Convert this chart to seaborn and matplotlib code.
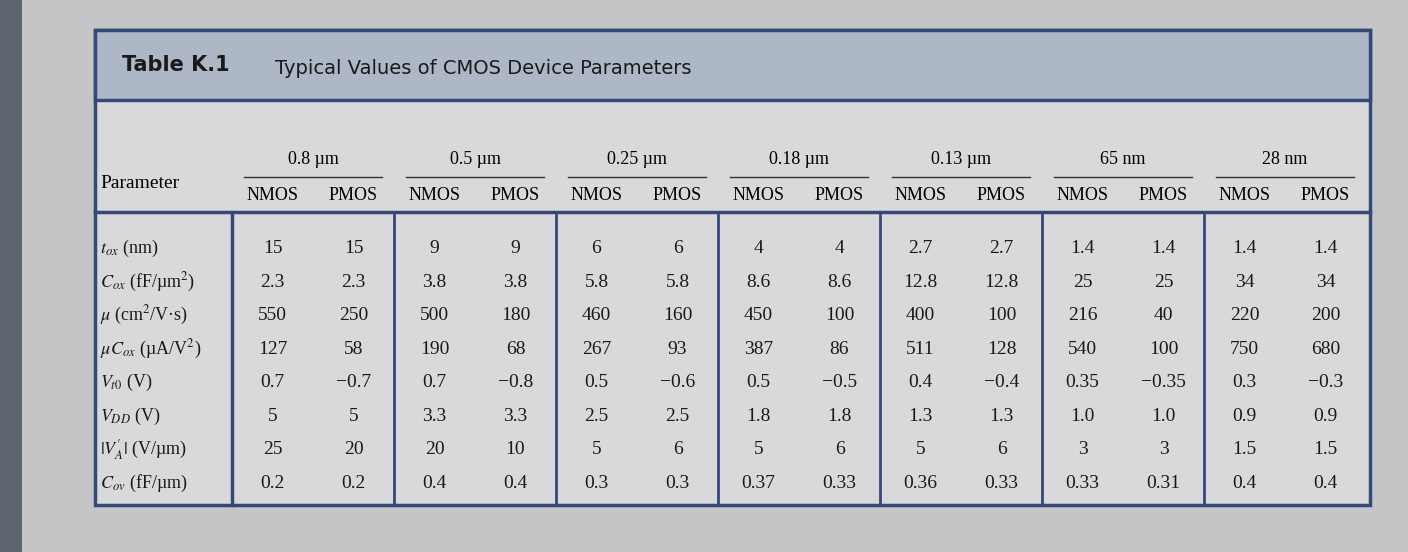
import numpy as np
import matplotlib
matplotlib.use("Agg")
import matplotlib.pyplot as plt
import seaborn as sns
from matplotlib.patches import Rectangle

nodes = ["0.8 µm", "0.5 µm", "0.25 µm", "0.18 µm", "0.13 µm", "65 nm", "28 nm"]
params = [r"$t_{ox}$ (nm)", r"$C_{ox}$ (fF/µm$^2$)", r"$\mu$ (cm$^2$/V·s)",
          r"$\mu C_{ox}$ (µA/V$^2$)", r"$V_{t0}$ (V)", r"$V_{DD}$ (V)",
          r"$|V_A'|$ (V/µm)", r"$C_{ov}$ (fF/µm)"]
n08 = [["15","15"],["2.3","2.3"],["550","250"],["127","58"],["0.7","−0.7"],["5","5"],["25","20"],["0.2","0.2"]]
n05 = [["9","9"],["3.8","3.8"],["500","180"],["190","68"],["0.7","−0.8"],["3.3","3.3"],["20","10"],["0.4","0.4"]]
n025 = [["6","6"],["5.8","5.8"],["460","160"],["267","93"],["0.5","−0.6"],["2.5","2.5"],["5","6"],["0.3","0.3"]]
n018 = [["4","4"],["8.6","8.6"],["450","100"],["387","86"],["0.5","−0.5"],["1.8","1.8"],["5","6"],["0.37","0.33"]]
n013 = [["2.7","2.7"],["12.8","12.8"],["400","100"],["511","128"],["0.4","−0.4"],["1.3","1.3"],["5","6"],["0.36","0.33"]]
n65 = [["1.4","1.4"],["25","25"],["216","40"],["540","100"],["0.35","−0.35"],["1.0","1.0"],["3","3"],["0.33","0.31"]]
n28 = [["1.4","1.4"],["34","34"],["220","200"],["750","680"],["0.3","−0.3"],["0.9","0.9"],["1.5","1.5"],["0.4","0.4"]]
groups = [n08, n05, n025, n018, n013, n65, n28]

labels = np.array([[g[r][c] for g in groups for c in range(2)] for r in range(len(params))])

plt.rcParams["font.family"] = ["Liberation Serif", "DejaVu Serif"]
plt.rcParams["mathtext.fontset"] = "stix"

W, H = 1408, 552
fig = plt.figure(figsize=(W/100, H/100), dpi=100, facecolor="#c4c5c7")
def px(x, y):
    return x / W, 1 - y / H
border = "#34497a"
def rect(x0, y0, x1, y1, fc, ec="none", lw=0):
    a, b = px(x0, y1)
    fig.patches.append(Rectangle((a, b), (x1-x0)/W, (y1-y0)/H, transform=fig.transFigure,
                                 facecolor=fc, edgecolor=ec, linewidth=lw, zorder=-5))
rect(0, 0, 22, 552, "#5d6670")
rect(95, 30, 1370, 505, "#d9d9db", border, 2.5)
rect(95, 30, 1370, 100, "#aeb7c6", border, 2.5)
fig.text(*px(122, 65), "Table K.1", fontsize=15, fontweight="bold", family="DejaVu Sans", va="center", color="#1a1a1a")
fig.text(*px(275, 68), "Typical Values of CMOS Device Parameters", fontsize=14, family="DejaVu Sans", va="center", color="#1a1a1a")

L, R, T, B = 232, 1366, 232, 500
ax = fig.add_axes([L/W, 1-B/H, (R-L)/W, (B-T)/H], zorder=5)
sns.heatmap(np.zeros(labels.shape), annot=labels, fmt="", cbar=False, cmap=["#d9d9db"],
            annot_kws={"fontsize": 14, "color": "#1a1a1a"}, xticklabels=False, yticklabels=False, ax=ax)
for k in range(0, 7):
    ax.axvline(2*k, color=border, lw=2.5 if k == 0 else 2, ymin=-0.02, ymax=1.07, clip_on=False)
for s in ax.spines.values():
    s.set_visible(False)

cw = (R - L) / 14
fig.lines.append(plt.Line2D([95/W, 1370/W], [1-212/H]*2, transform=fig.transFigure, color=border, lw=2.5))
fig.text(*px(100, 183), "Parameter", fontsize=14, va="center")
for i, n in enumerate(nodes):
    cx = L + cw * (2*i + 1)
    fig.text(*px(cx, 160), n, fontsize=13, ha="center", va="center")
    fig.lines.append(plt.Line2D([(cx-cw*0.85)/W, (cx+cw*0.85)/W], [1-177/H]*2,
                                transform=fig.transFigure, color="#333", lw=1))
    fig.text(*px(cx - cw/2, 195), "NMOS", fontsize=13, ha="center", va="center")
    fig.text(*px(cx + cw/2, 195), "PMOS", fontsize=13, ha="center", va="center")
rh = (B - T) / len(params)
for r, p in enumerate(params):
    fig.text(*px(100, T + rh*(r+0.5)), p, fontsize=13, va="center", color="#1a1a1a")

fig.savefig("out.png", dpi=100, facecolor=fig.get_facecolor())
